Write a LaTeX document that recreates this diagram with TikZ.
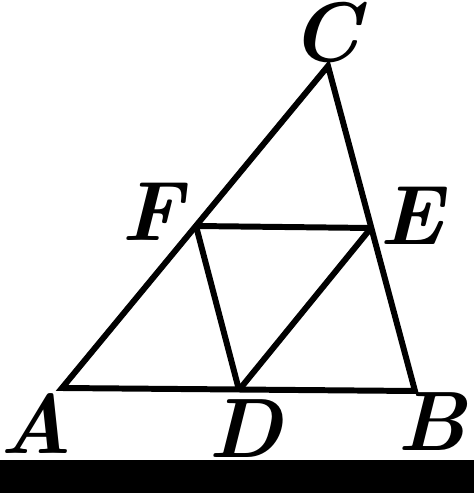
\documentclass[tikz,border=0pt]{standalone}
\usepackage{tikz}

\tikzset{
  side/.style={line width=3.4pt, line join=miter},
  letter/.style={font=\fontsize{48}{48}\selectfont\bfseries\itshape, inner sep=0pt}
}

\begin{document}
\begin{tikzpicture}[x=0.02cm, y=-0.02cm]
    \useasboundingbox (0,0) rectangle (474,493);
    % bottom band
    \fill[black] (0,460) rectangle (474,493);

    % draw corner points
    \coordinate (A) at (62,388);
    \coordinate (B) at (415,391);
    \coordinate (C) at (328,66);
    \coordinate (D) at (239,390);
    \coordinate (E) at (371,228);
    \coordinate (F) at (196,226);

    % draw triangle
    \draw[side] (A) -- (B) -- (C) -- cycle;

    % draw inner lines
    \draw[side] (F) -- (E);
    \draw[side] (F) -- (D);
    \draw[side] (D) -- (E);

    % draw labels
    \node[letter] (la) at (36,424) {A};
    \node[letter] (lb) at (432,422) {B};
    \node[letter] (lc) at (325,33) {C};
    \node[letter] (ld) at (245,429) {D};
    \node[letter] (le) at (411,216) {E};
    \node[letter] (lf) at (152,212) {F};
\end{tikzpicture}
\end{document}
